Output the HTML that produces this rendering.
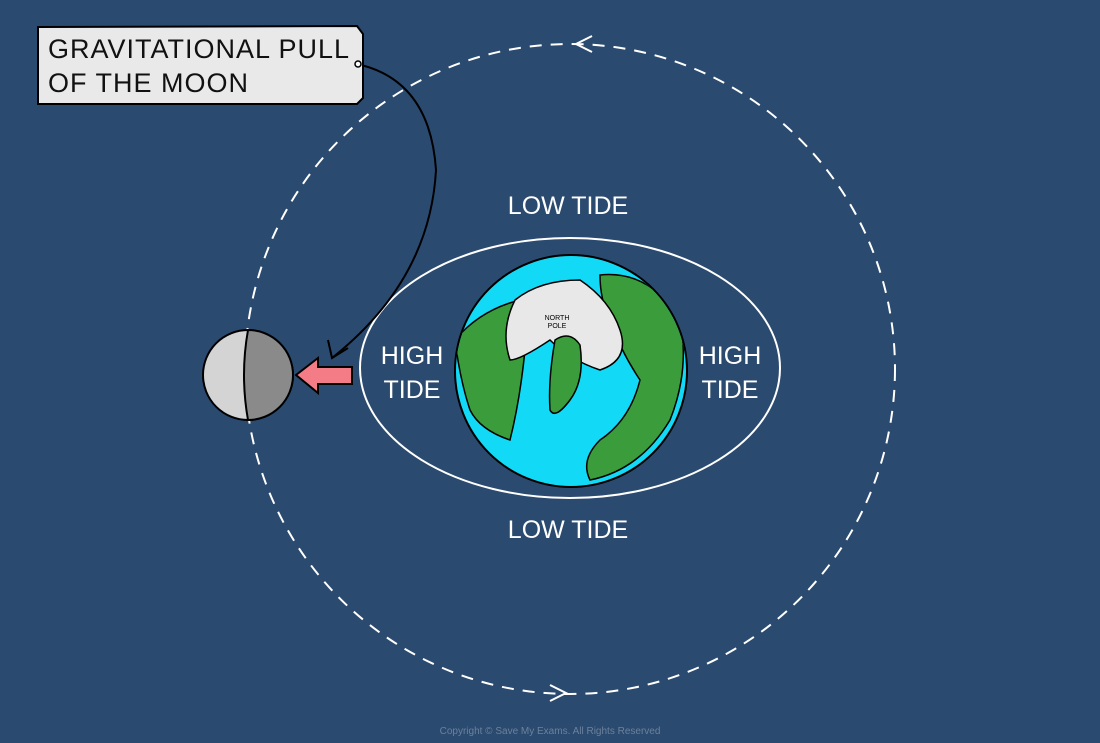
<!DOCTYPE html>
<html><head><style>
body{margin:0;background:#2b4a6f;}
svg{display:block}
text{font-family:"Liberation Sans",sans-serif;}
</style></head><body>
<svg width="1100" height="743" viewBox="0 0 1100 743">
<rect width="1100" height="743" fill="#2b4a6f"/>
<circle cx="570" cy="369" r="325" fill="none" stroke="#fff" stroke-width="2" stroke-dasharray="12,9"/>
<path d="M592 36 L576 44 L592 52" fill="none" stroke="#fff" stroke-width="2"/>
<path d="M550 685 L566 693 L550 701" fill="none" stroke="#fff" stroke-width="2"/>
<ellipse cx="570" cy="368" rx="210" ry="130" fill="none" stroke="#fff" stroke-width="2"/>
<g>
<circle cx="571" cy="371" r="116" fill="#12d9f5" stroke="#000" stroke-width="2"/>
<clipPath id="c"><circle cx="571" cy="371" r="115"/></clipPath>
<g clip-path="url(#c)" stroke="#000" stroke-width="1.5">
<path d="M455 340 Q480 310 520 300 Q545 320 525 350 Q520 400 510 440 Q480 430 470 410 Q460 380 455 340Z" fill="#3a9c3a"/>
<path d="M600 275 Q650 270 680 320 Q690 370 670 420 Q640 470 590 480 Q580 460 600 440 Q630 420 640 380 Q620 350 610 320 Q600 300 600 275Z" fill="#3a9c3a"/>
<path d="M515 300 Q540 280 580 280 Q610 300 620 330 Q630 360 600 370 Q570 360 550 340 Q520 360 510 360 Q500 330 515 300Z" fill="#e8e8e8"/>
<path d="M555 340 Q570 330 580 345 Q585 380 570 400 Q555 420 550 410 Q548 380 555 340Z" fill="#3a9c3a"/>
</g>
<text x="557" y="320" font-size="7" fill="#000" text-anchor="middle">NORTH</text>
<text x="557" y="328" font-size="7" fill="#000" text-anchor="middle">POLE</text>
</g>
<circle cx="248" cy="375" r="45" fill="#d4d4d4" stroke="#000" stroke-width="2"/>
<path d="M248 330 A45 45 0 0 1 248 420 Q240 375 248 330Z" fill="#8a8a8a" stroke="#000" stroke-width="2"/>
<path d="M296 375 L318 358 L318 367 L352 367 L352 384 L318 384 L318 393Z" fill="#f47c86" stroke="#000" stroke-width="2"/>
<path d="M357 64 Q430 80 436 170 Q430 280 332 358" fill="none" stroke="#000" stroke-width="2"/>
<path d="M328 340 L332 358 L348 348" fill="none" stroke="#000" stroke-width="2"/>
<path d="M38 27 L357 26 L363 34 L363 98 L357 104 L38 104Z" fill="#e9e9e9" stroke="#000" stroke-width="2"/>
<circle cx="358" cy="64" r="3" fill="#fff" stroke="#000" stroke-width="1.5"/>
<text x="48" y="58" font-size="27" fill="#111" letter-spacing="1">GRAVITATIONAL PULL</text>
<text x="48" y="92" font-size="27" fill="#111" letter-spacing="1">OF THE MOON</text>
<g fill="#fff" font-size="25" text-anchor="middle">
<text x="568" y="214">LOW TIDE</text>
<text x="568" y="538">LOW TIDE</text>
<text x="412" y="364">HIGH</text>
<text x="412" y="398">TIDE</text>
<text x="730" y="364">HIGH</text>
<text x="730" y="398">TIDE</text>
</g>
<text x="550" y="734" font-size="10" fill="#6c819c" text-anchor="middle">Copyright © Save My Exams. All Rights Reserved</text>
</svg>
</body></html>
